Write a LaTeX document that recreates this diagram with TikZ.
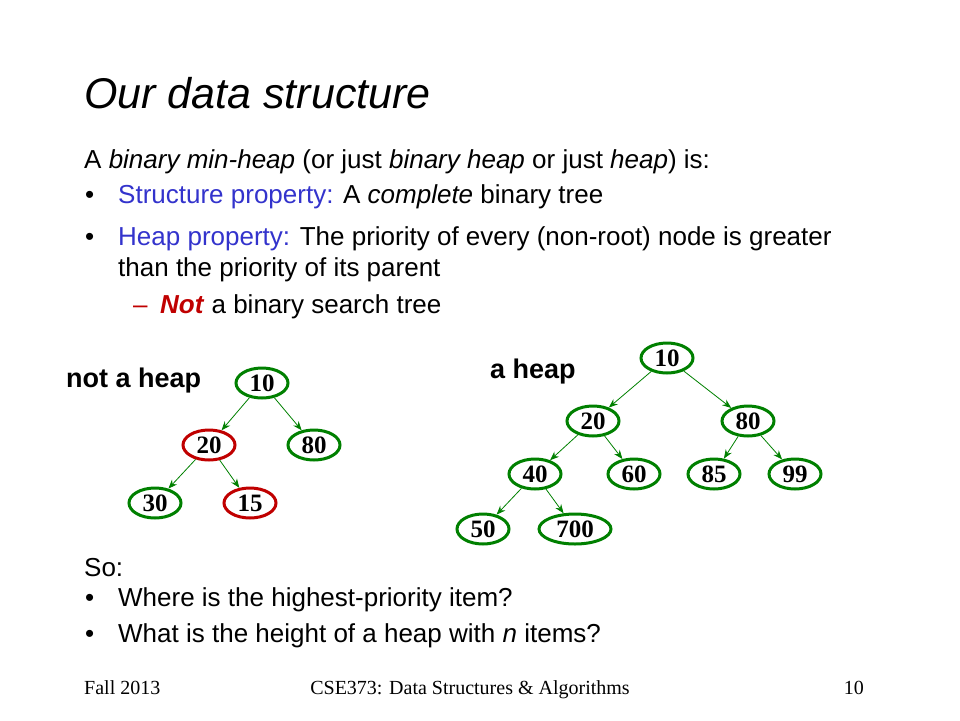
\documentclass[tikz,border=0pt]{standalone}
\usepackage{fontspec}
\setmainfont{Liberation Sans}
\newfontfamily\serf{Liberation Serif}
\usetikzlibrary{shapes.geometric,arrows.meta}
\definecolor{gr}{RGB}{0,128,0}
\definecolor{rd}{RGB}{192,0,0}
\definecolor{bl}{RGB}{51,51,204}
\tikzset{
 hn/.style={ellipse,draw=gr,line width=3pt,minimum width=52pt,minimum height=30pt,inner sep=0pt,font=\serf\fontsize{25}{25}\selectfont\bfseries,fill=white},
 bad/.style={hn,draw=rd},
 wide/.style={minimum width=72pt},
 ed/.style={draw=gr,line width=0.8pt,-{Stealth[length=9pt,width=7pt]}},
 tx/.style={anchor=base west,inner sep=0pt,font=\fontsize{26}{26}\selectfont},
 ft/.style={anchor=base,inner sep=0pt,font=\serf\fontsize{20}{20}\selectfont}
}
\begin{document}
\begin{tikzpicture}[x=1pt,y=-1pt]
\useasboundingbox (0,0) rectangle (960,720);
\node[tx,font=\fontsize{43}{43}\selectfont\itshape] (title) at (84,108) {Our data structure};
\node[tx] (l1) at (84,168) {A \textit{binary min-heap} (or just \textit{binary heap} or just \textit{heap}) is:};
\node[tx] (b1) at (85,203) {•};
\node[tx] (l2) at (118,203) {\textcolor{bl}{Structure property:} A \textit{complete} binary tree};
\node[tx] (b2) at (85,245) {•};
\node[tx] (l3) at (118,245) {\textcolor{bl}{Heap property:} The priority of every (non-root) node is greater};
\node[tx] (l4) at (118,276) {than the priority of its parent};
\node[tx] (d1) at (133,313) {\textcolor{rd}{–}};
\node[tx] (l5) at (160,313) {\textcolor{rd}{\textbf{\textit{Not}}} a binary search tree};
\node[tx,font=\fontsize{27}{27}\selectfont\bfseries] (nah) at (66,387) {not a heap};
\node[tx,font=\fontsize{27}{27}\selectfont\bfseries] (ah) at (490,378) {a heap};
% not a heap
\node[hn] (a10) at (262,383) {10};
\node[bad] (a20) at (209,445) {20};
\node[hn] (a80) at (314,445) {80};
\node[hn] (a30) at (155,503) {30};
\node[bad] (a15) at (250,503) {15};
\draw[ed] (a10) -- (a20); \draw[ed] (a10) -- (a80);
\draw[ed] (a20) -- (a30); \draw[ed] (a20) -- (a15);
% heap
\node[hn] (h10) at (667,358) {10};
\node[hn] (h20) at (593,421) {20};
\node[hn] (h80) at (748,421) {80};
\node[hn] (h40) at (535,474) {40};
\node[hn] (h60) at (634,474) {60};
\node[hn] (h85) at (714,474) {85};
\node[hn] (h99) at (795,474) {99};
\node[hn] (h50) at (483,529) {50};
\node[hn,wide] (h700) at (575,529) {700};
\draw[ed] (h10) -- (h20); \draw[ed] (h10) -- (h80);
\draw[ed] (h20) -- (h40); \draw[ed] (h20) -- (h60);
\draw[ed] (h80) -- (h85); \draw[ed] (h80) -- (h99);
\draw[ed] (h40) -- (h50); \draw[ed] (h40) -- (h700);
\node[tx] (so) at (84,576) {So:};
\node[tx] (b3) at (85,606) {•};
\node[tx] (q1) at (118,606) {Where is the highest-priority item?};
\node[tx] (b4) at (85,642) {•};
\node[tx] (q2) at (118,642) {What is the height of a heap with \textit{n} items?};
\node[ft,anchor=base west] (f1) at (84,694) {Fall 2013};
\node[ft] (f2) at (470,694) {CSE373: Data Structures \& Algorithms};
\node[ft,anchor=base east] (f3) at (864,694) {10};
\end{tikzpicture}
\end{document}
